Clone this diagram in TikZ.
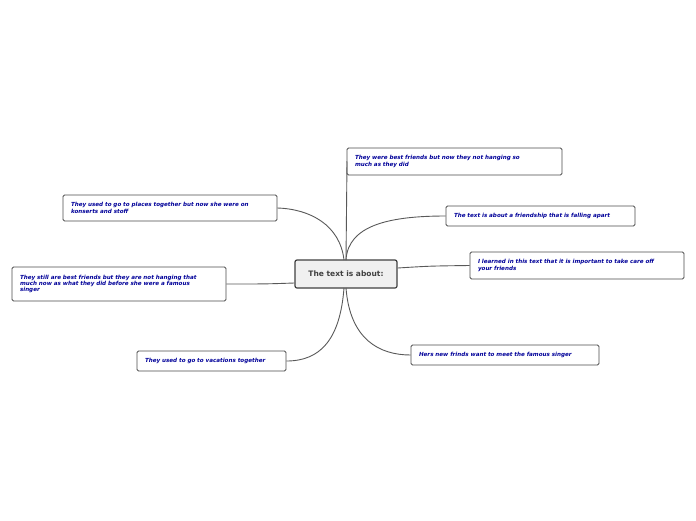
\documentclass[tikz,border=0pt]{standalone}
\usepackage{fontspec}
\setmainfont{DejaVu Sans}
\begin{document}
\begin{tikzpicture}[x=1pt,y=-1pt,
  sub/.style={draw=black!70,rounded corners=1.5pt,fill=white,line width=0.8pt,font=\bfseries\itshape\fontsize{5.6}{6.4}\selectfont,text=blue!60!black,align=left,inner xsep=8pt},
  conn/.style={draw=black!65,line width=0.9pt}]
\useasboundingbox (0,0) rectangle (696,520);
\node[draw=black!75,line width=1.2pt,rounded corners=2pt,fill=black!6,minimum width=102pt,minimum height=28pt,font=\bfseries\fontsize{7.5}{9}\selectfont,text=black!75] (c) at (346,274) {The text is about:};
\node[sub,minimum width=215pt,minimum height=27pt,text width=199pt] (n1) at (454.5,161.5) {They were best friends but now they not hanging so\\much as they did};
\node[sub,minimum width=189pt,minimum height=20pt,text width=173pt] (n2) at (540.5,216) {The text is about a friendship that is falling apart};
\node[sub,minimum width=214pt,minimum height=27pt,text width=198pt] (n3) at (577,265.5) {I learned in this text that it is important to take care off\\your friends};
\node[sub,minimum width=188pt,minimum height=20pt,text width=172pt] (n4) at (505,355) {Hers new frinds want to meet the famous singer};
\node[sub,minimum width=214pt,minimum height=26pt,text width=198pt] (l1) at (170,208) {They used to go to places together but now she were on\\konserts and stoff};
\node[sub,minimum width=214pt,minimum height=34pt,text width=198pt] (l2) at (119,284) {They still are best friends but they are not hanging that\\much now as what they did before she were a famous\\singer};
\node[sub,minimum width=149pt,minimum height=20pt,text width=133pt] (l3) at (211.5,361) {They used to go to vacations together};
\begin{scope}[on background layer/.try]
\end{scope}
\draw[conn] (346,260) -- (347,162) -- (n1.west);
\draw[conn] (346,260) .. controls (348,225) and (390,216) .. (n2.west);
\draw[conn] (c.east) ++(0,-6) .. controls (430,266) .. (n3.west);
\draw[conn] (346,288) .. controls (350,340) and (380,355) .. (n4.west);
\draw[conn] (344,260) .. controls (340,225) and (310,209) .. (l1.east);
\draw[conn] (c.west) ++(0,9) .. controls (265,284) .. (l2.east);
\draw[conn] (344,288) .. controls (340,340) and (320,361) .. (l3.east);
\end{tikzpicture}
\end{document}
